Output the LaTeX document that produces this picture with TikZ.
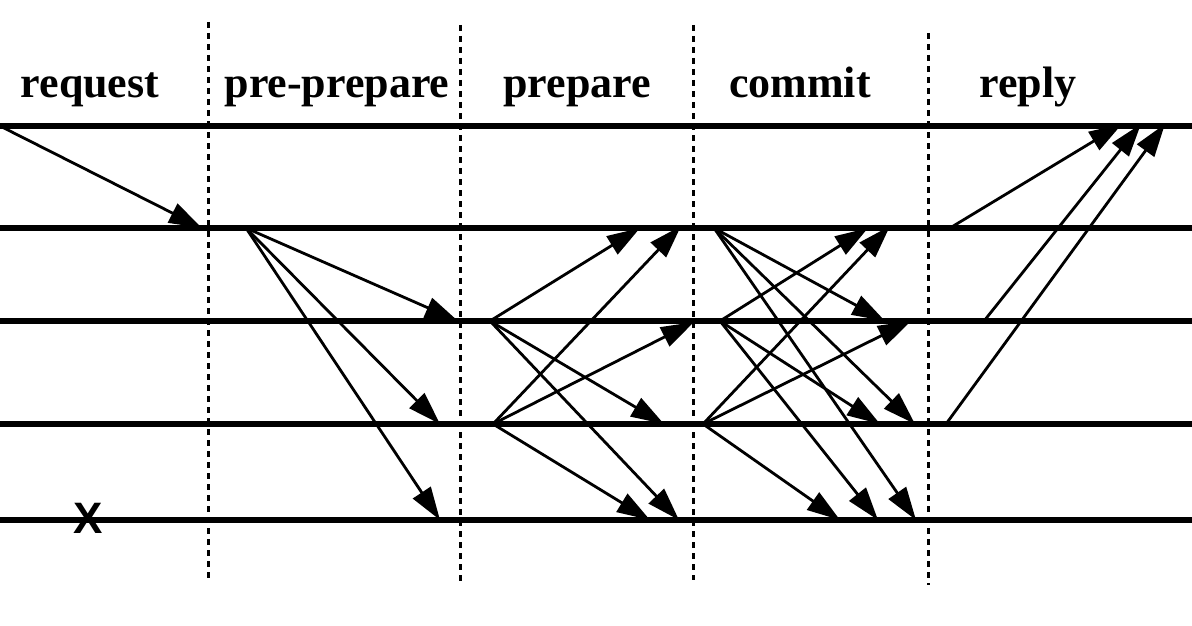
\documentclass[tikz,border=0pt]{standalone}
\usepackage{fontspec}
\setmainfont{Liberation Serif}
\newfontfamily\sansb{Liberation Sans Bold}
\usetikzlibrary{arrows.meta}
\begin{document}
\begin{tikzpicture}[x=1pt,y=-1pt,
  proc/.style={line width=5.5pt},
  phase/.style={line width=3pt,dash pattern=on 6pt off 5pt},
  msg/.style={line width=2.8pt,-{Triangle[length=33pt,width=21pt]}},
  lbl/.style={anchor=base,font=\fontsize{44}{48}\selectfont\bfseries}]
\useasboundingbox (0,0) rectangle (1192,626);
\foreach \y [count=\i from 0] in {126,228,321,424,520}{
  \draw[proc] (0,\y) -- (1192,\y);}
\draw[phase] (208,22) -- (208,578);
\draw[phase] (460,25) -- (460,583);
\draw[phase] (693,25) -- (693,580);
\draw[phase] (928,33) -- (928,585);
\node[lbl] (l1) at (90,98) {request};
\node[lbl] (l2) at (337,98) {pre-prepare};
\node[lbl] (l3) at (577,98) {prepare};
\node[lbl] (l4) at (800,98) {commit};
\node[lbl] (l5) at (1028,98) {reply};
\node (x) at (88,518) {\sansb\fontsize{44}{46}\selectfont X};
% request
\coordinate (c0) at (0,126); \coordinate (p0) at (202,228);
\draw[msg] (c0) -- (p0);
% pre-prepare
\coordinate (pp) at (246,228);
\coordinate (pp1) at (458,321); \coordinate (pp2) at (440,424); \coordinate (pp3) at (440,520);
\foreach \t in {pp1,pp2,pp3} \draw[msg] (pp) -- (\t);
% prepare
\coordinate (a1) at (490,321); \coordinate (a2) at (493,424);
\coordinate (t1) at (640,228); \coordinate (t2) at (664,424); \coordinate (t3) at (679,520);
\coordinate (u1) at (681,226); \coordinate (u2) at (694,322); \coordinate (u3) at (650,520);
\foreach \t in {t1,t2,t3} \draw[msg] (a1) -- (\t);
\foreach \t in {u1,u2,u3} \draw[msg] (a2) -- (\t);
% commit
\coordinate (b0) at (714,228); \coordinate (b1) at (720,321); \coordinate (b2) at (703,424);
\coordinate (v1) at (885,321); \coordinate (v2) at (915,424); \coordinate (v3) at (916,520);
\coordinate (w1) at (868,228); \coordinate (w2) at (880,424); \coordinate (w3) at (878,520);
\coordinate (z1) at (890,226); \coordinate (z2) at (911,321); \coordinate (z3) at (840,520);
\foreach \t in {v1,v2,v3} \draw[msg] (b0) -- (\t);
\foreach \t in {w1,w2,w3} \draw[msg] (b1) -- (\t);
\foreach \t in {z1,z2,z3} \draw[msg] (b2) -- (\t);
% reply
\coordinate (r0) at (950,228); \coordinate (r1) at (984,321); \coordinate (r2) at (946,424);
\coordinate (q0) at (1122,124); \coordinate (q1) at (1141,124); \coordinate (q2) at (1165,124);
\draw[msg] (r0) -- (q0); \draw[msg] (r1) -- (q1); \draw[msg] (r2) -- (q2);
\end{tikzpicture}
\end{document}
